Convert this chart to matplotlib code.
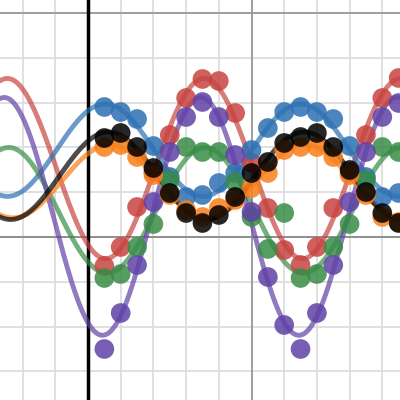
import numpy as np
import matplotlib
matplotlib.use("Agg")
import matplotlib.pyplot as plt

x = np.arange(0.5, 10.0, 0.5)
def py(v): return (237 - np.array(v, float)) / 44.8
red = py([266,247,207,172,135,98,79,81,113,163,208,250,265,247,208,172,135,98,78])
blue = py([107,112,119,146,177,197,195,183,173,150,128,112,107,112,119,146,177,197,193])
green = py([278,274,247,224,180,147,152,152,182,217,249,213,278,274,247,224,180,147,152])
purple = py([349,313,265,202,152,117,102,117,155,212,277,325,349,313,265,202,152,117,103])
orange = py([147,145,157,175,195,210,217,208,200,188,173,150,147,147,157,175,195,217,222])
black = py([138,133,147,168,193,213,223,215,197,173,162,143,137,133,147,170,192,213,223])

series = [(red, "#c74440"), (blue, "#2d70b3"), (green, "#388c46"),
          (purple, "#6042a6"), (orange, "#fa7e19"), (black, "#000000")]

def fit(xs, ys):
    best = None
    for w in np.linspace(0.8, 1.4, 601):
        A = np.column_stack([np.sin(w*xs), np.cos(w*xs), np.ones_like(xs)])
        c, res, *_ = np.linalg.lstsq(A, ys, rcond=None)
        r = np.sum((A @ c - ys)**2)
        if best is None or r < best[0]:
            best = (r, w, c)
    return best[1], best[2]

fig = plt.figure(figsize=(4, 4), dpi=100)
ax = fig.add_axes([0, 0, 1, 1])
xmin, xmax = -88/32.7, 312/32.7
ymin, ymax = -163/44.8, 237/44.8
ax.set_xlim(xmin, xmax); ax.set_ylim(ymin, ymax)
for v in range(-3, 10):
    ax.axvline(v, color="#dddddd", lw=1.3, zorder=0)
for v in range(-3, 6):
    ax.axhline(v, color="#dddddd", lw=1.3, zorder=0)
ax.axvline(5, color="#999999", lw=1.3, zorder=0)
ax.axhline(5, color="#999999", lw=1.3, zorder=0)
ax.axhline(0, color="#888888", lw=1.3, zorder=0)
ax.axvline(0, color="black", lw=2.5, zorder=1)

xx = np.linspace(xmin, xmax, 500)
for ys, col in series:
    w, c = fit(x, ys)
    yy = c[0]*np.sin(w*xx) + c[1]*np.cos(w*xx) + c[2]
    ax.plot(xx, yy, color=col, lw=3.5, alpha=0.7, zorder=2, solid_capstyle="round")
for ys, col in series:
    ax.scatter(x, ys, s=200, color=col, alpha=0.85, edgecolors="none", zorder=3)
ax.axis("off")
fig.savefig("out.png", dpi=100)
